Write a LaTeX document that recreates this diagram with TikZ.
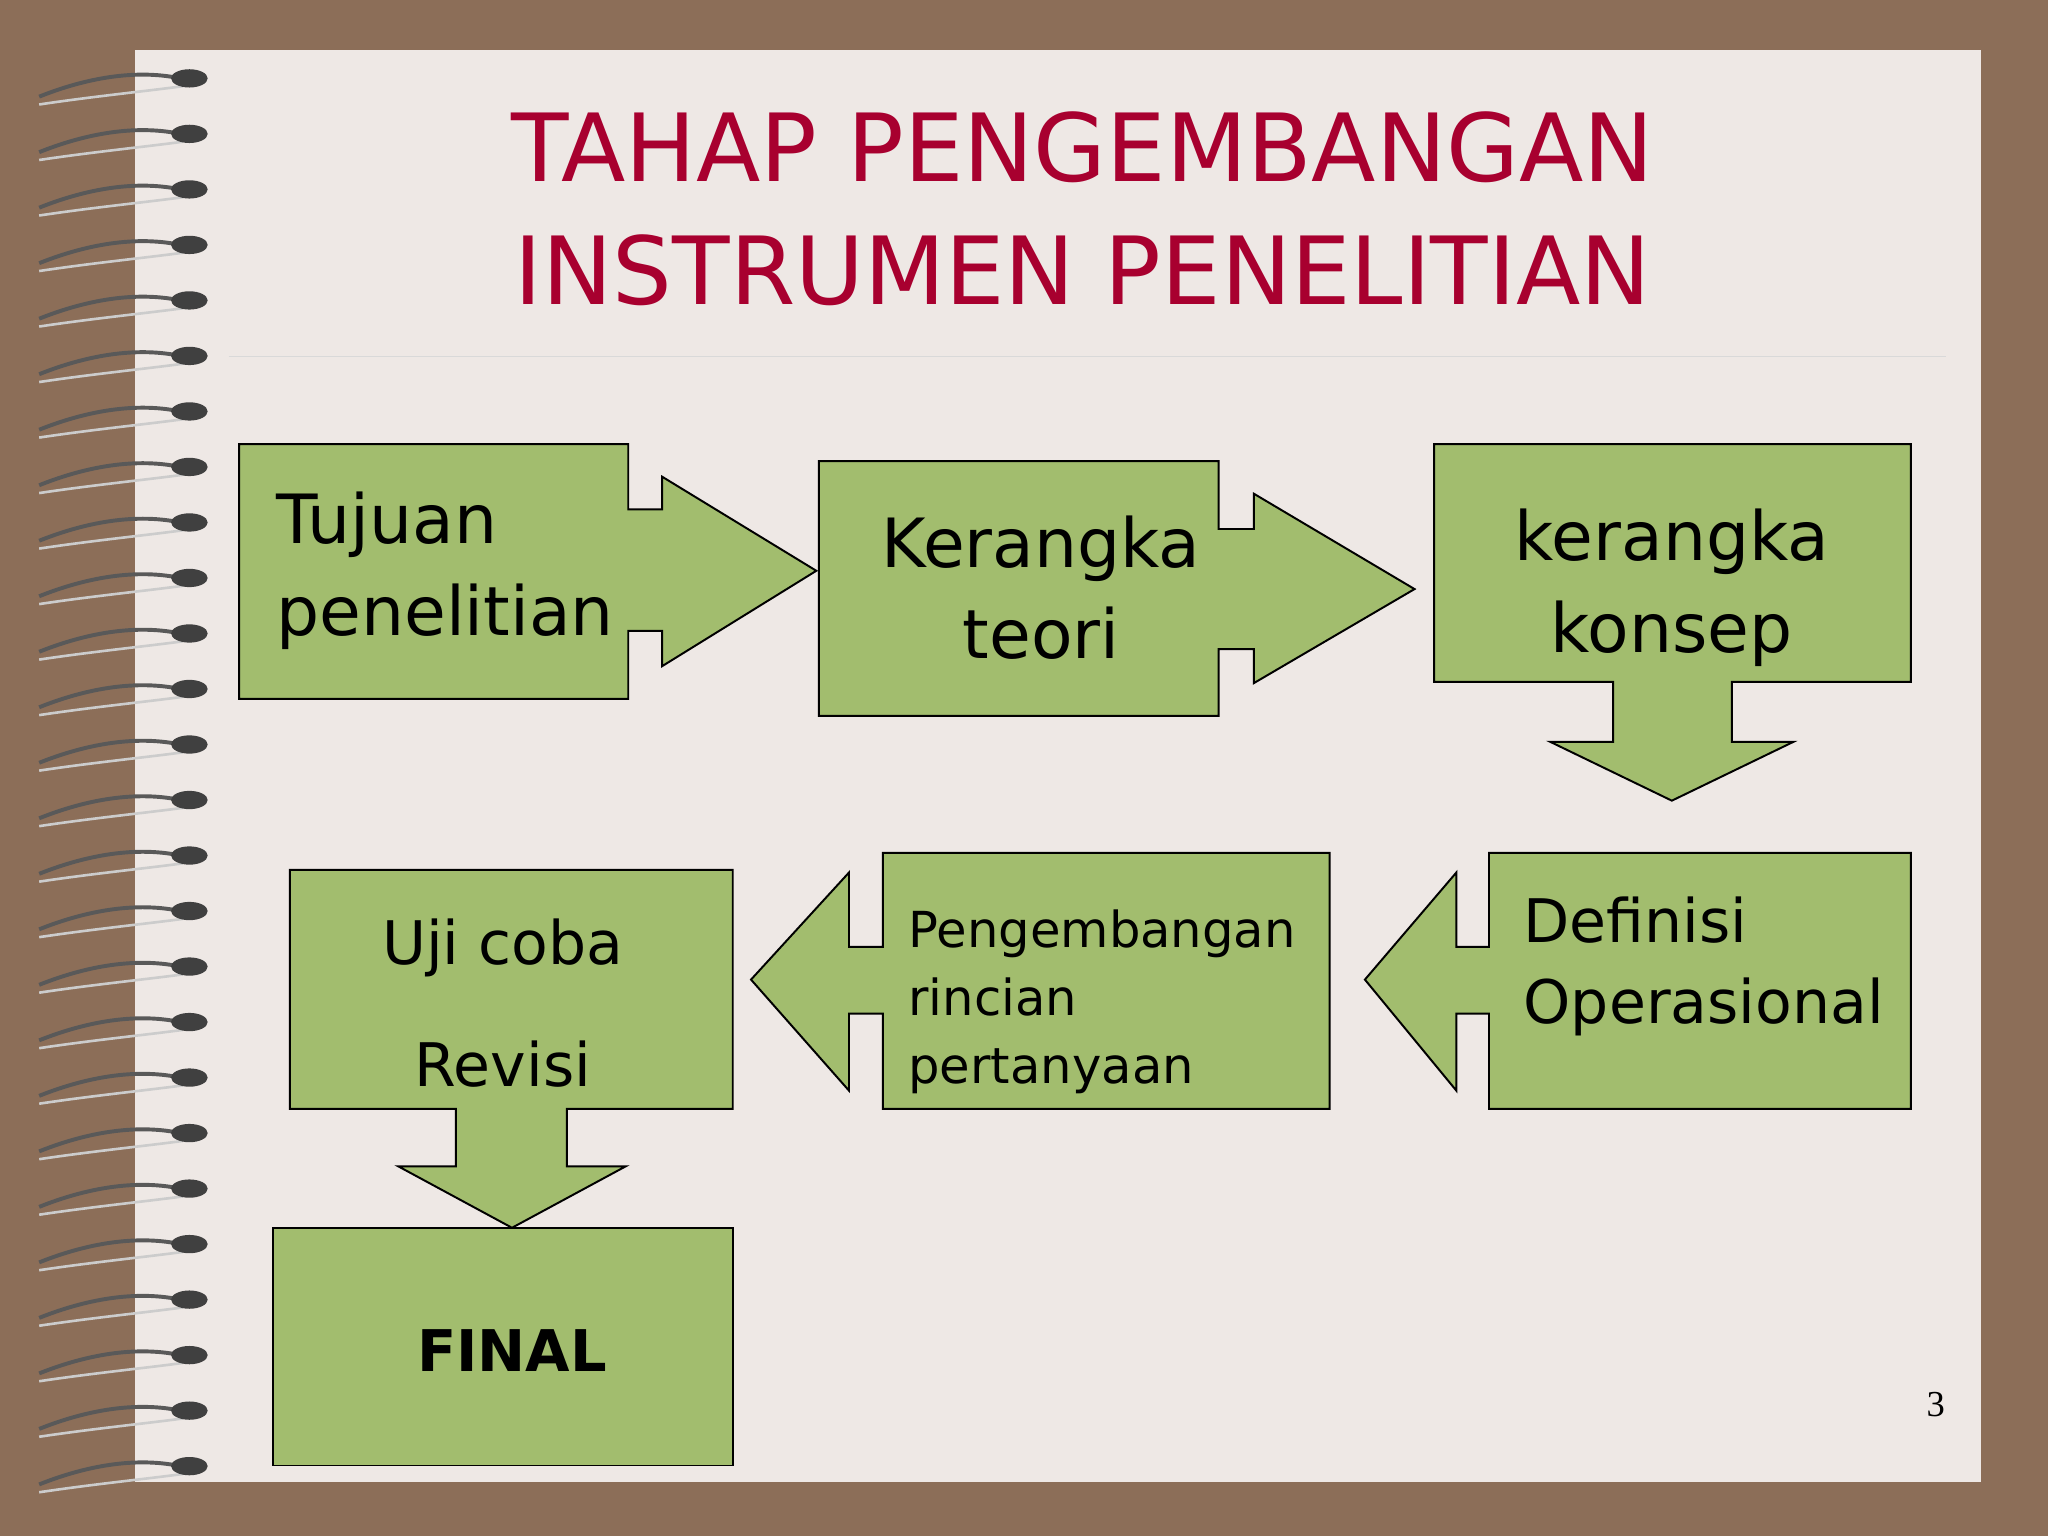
\documentclass[tikz,border=0pt]{standalone}
\usepackage{fontspec}
\setmainfont{DejaVu Sans}
\newfontfamily\pgserif{Liberation Serif}
\definecolor{bgbrown}{HTML}{8C6E58}
\definecolor{paper}{HTML}{EEE8E5}
\definecolor{titlered}{HTML}{A8002F}
\definecolor{boxgreen}{HTML}{A2BD6E}
\tikzset{callout/.style={draw=black,line width=1.5pt,fill=boxgreen,line join=miter},
 btxt/.style={font=\fontsize{52}{70}\selectfont,align=center},
 ring/.style={line width=3pt,color=gray!70!black}}
\begin{document}
\begin{tikzpicture}[x=1pt,y=-1pt]
\useasboundingbox (0,0) rectangle (1568,1176);
\fill[bgbrown] (0,0) rectangle (1568,1176);
\fill[paper] (103,38) rectangle (1517,1135);
\draw[color=black!15,line width=1pt] (175,273) -- (1490,273);
\foreach \i in {0,...,25}{
  \pgfmathsetmacro{\yy}{60+\i*42.5}
  \draw[ring] (30,\yy+14) .. controls (60,\yy+2) and (100,\yy-8) .. (138,\yy);
  \draw[color=gray!40,line width=2pt] (30,\yy+20) .. controls (70,\yy+14) and (110,\yy+10) .. (140,\yy+6);
  \fill[black!75] (145,\yy) ellipse (14 and 7);
}
\node[text=titlered,font=\fontsize{72}{94}\selectfont,align=center] (title) at (829,160) {TAHAP PENGEMBANGAN\\INSTRUMEN PENELITIAN};
% callouts
\draw[callout] (183,340) -- (481,340) -- (481,390) -- (507,390) -- (507,365) -- (625,437) -- (507,510) -- (507,483) -- (481,483) -- (481,535) -- (183,535) -- cycle;
\draw[callout] (627,353) -- (933,353) -- (933,405) -- (960,405) -- (960,378) -- (1083,451) -- (960,523) -- (960,497) -- (933,497) -- (933,548) -- (627,548) -- cycle;
\draw[callout] (1098,340) -- (1463,340) -- (1463,522) -- (1326,522) -- (1326,568) -- (1373,568) -- (1280,613) -- (1187,568) -- (1235,568) -- (1235,522) -- (1098,522) -- cycle;
\draw[callout] (1140,653) -- (1463,653) -- (1463,849) -- (1140,849) -- (1140,776) -- (1115,776) -- (1115,835) -- (1045,750) -- (1115,668) -- (1115,725) -- (1140,725) -- cycle;
\draw[callout] (676,653) -- (1018,653) -- (1018,849) -- (676,849) -- (676,776) -- (650,776) -- (650,835) -- (575,750) -- (650,668) -- (650,725) -- (676,725) -- cycle;
\draw[callout] (222,666) -- (561,666) -- (561,849) -- (434,849) -- (434,893) -- (479,893) -- (392,940) -- (305,893) -- (349,893) -- (349,849) -- (222,849) -- cycle;
\draw[callout] (209,940) rectangle (561,1122);
% texts
\node[btxt,align=left,anchor=west] (t1) at (208,437) {Tujuan\\penelitian};
\node[btxt] (t2) at (797,450) {Kerangka\\teori};
\node[btxt] (t3) at (1280,450) {kerangka\\konsep};
\node[font=\fontsize{46}{62}\selectfont,align=left,anchor=west] (t4) at (1163,740) {Definisi\\Operasional};
\node[font=\fontsize{38}{52}\selectfont,align=left,anchor=west] (t5) at (692,767) {Pengembangan\\rincian\\pertanyaan};
\node[font=\fontsize{46}{94}\selectfont,align=center] (t6) at (385,768) {Uji coba\\Revisi};
\node[font=\bfseries\fontsize{44}{58}\selectfont] (t7) at (392,1034) {FINAL};
\node[font=\fontsize{28}{30}\selectfont\pgserif] (pg) at (1482,1075) {3};
\end{tikzpicture}
\end{document}
